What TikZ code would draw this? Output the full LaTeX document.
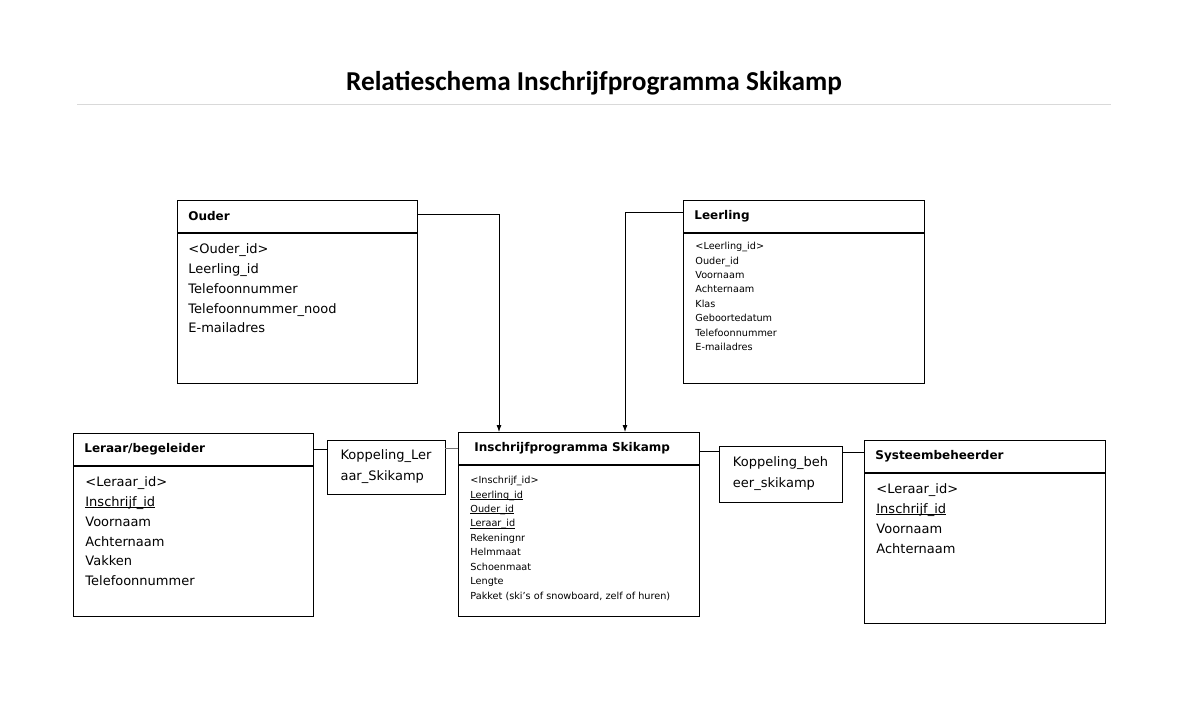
\documentclass[tikz,border=0pt]{standalone}
\usepackage{fontspec}
\setmainfont{DejaVu Sans}
\newfontfamily\titelfont{Carlito}
\newsavebox\lijnbox
\newcommand\onderlijn[1]{\sbox\lijnbox{#1}\rlap{\rule[-1.6pt]{\wd\lijnbox}{0.6pt}}\usebox\lijnbox}
\usepackage{tikz}
\usetikzlibrary{arrows.meta,positioning}

\begin{document}
\begin{tikzpicture}[x=1pt, y=-1pt, line width=0.8pt,
    kop/.style={draw, anchor=north west, minimum height=32pt, inner xsep=11pt, inner ysep=0pt, align=left, font=\fontsize{12}{14}\selectfont\bfseries},
    veld/.style={draw, anchor=north west, minimum height=150pt},
    tekst/.style={anchor=north west, inner sep=0pt, align=left, font=\fontsize{13}{19.8}\selectfont},
    klein/.style={anchor=north west, inner sep=0pt, align=left, font=\fontsize{9.7}{14.45}\selectfont},
    koppeling/.style={draw, align=left, inner sep=0pt, font=\fontsize{13}{21}\selectfont},
    pijl/.style={-{Latex[length=7pt,width=5pt]}}
]
    \useasboundingbox (0,0) rectangle (1181,702);

    % Title
    \node[font=\titelfont\bfseries\fontsize{27.3}{32}\selectfont] (titel) at (594,83) {Relatieschema Inschrijfprogramma Skikamp};
    \draw[black!15] (77,104) -- (1111,104);

    % Ouder
    \node[kop, text width=218pt] (ouder) at (177,200) {Ouder};
    \node[veld, minimum width=240pt] (ouderVeld) at (ouder.south west) {};
    \node[tekst] (ouderTekst) at ([xshift=11pt, yshift=-10.6pt]ouderVeld.north west)
        {<Ouder\_id>\\Leerling\_id\\Telefoonnummer\\Telefoonnummer\_nood\\E-mailadres};

    % Leerling
    \node[kop, text width=219pt] (leerling) at (683,200) {Leerling};
    \node[veld, minimum width=241pt] (leerlingVeld) at (leerling.south west) {};
    \node[klein] (leerlingTekst) at ([xshift=12pt, yshift=-9pt]leerlingVeld.north west)
        {<Leerling\_id>\\Ouder\_id\\Voornaam\\Achternaam\\Klas\\Geboortedatum\\Telefoonnummer\\E-mailadres};

    % Leraar/begeleider
    \node[kop, text width=218pt] (leraar) at (73,433) {Leraar/begeleider};
    \node[veld, minimum width=240pt] (leraarVeld) at (leraar.south west) {};
    \node[tekst] (leraarTekst) at ([xshift=12pt, yshift=-10.6pt]leraarVeld.north west)
        {<Leraar\_id>\\\onderlijn{Inschrijf\_id}\\Voornaam\\Achternaam\\Vakken\\Telefoonnummer};

    % Inschrijfprogramma Skikamp
    \node[kop, text width=219pt, inner xsep=11pt] (inschrijf) at (458,432) {\hspace{5pt}Inschrijfprogramma Skikamp};
    \node[veld, minimum width=241pt, minimum height=151pt] (inschrijfVeld) at (inschrijf.south west) {};
    \node[klein] (inschrijfTekst) at ([xshift=12pt, yshift=-11pt]inschrijfVeld.north west)
        {<Inschrijf\_id>\\\onderlijn{Leerling\_id}\\\onderlijn{Ouder\_id}\\\onderlijn{Leraar\_id}\\Rekeningnr\\Helmmaat\\Schoenmaat\\Lengte\\Pakket (ski’s of snowboard, zelf of huren)};

    % Systeembeheerder
    \node[kop, text width=219pt] (systeem) at (864,440) {Systeembeheerder};
    \node[veld, minimum width=241pt] (systeemVeld) at (systeem.south west) {};
    \node[tekst] (systeemTekst) at ([xshift=12pt, yshift=-10.6pt]systeemVeld.north west)
        {<Leraar\_id>\\\onderlijn{Inschrijf\_id}\\Voornaam\\Achternaam};

    % Koppelingen
    \node[koppeling, minimum width=118pt, minimum height=54pt] (koppelLeraar) at (386,467) {Koppeling\_Ler\\aar\_Skikamp};
    \node[koppeling, minimum width=123pt, minimum height=56pt] (koppelBeheer) at (780.5,474) {Koppeling\_beh\\eer\_skikamp};

    % Connectors
    \draw[pijl] ([yshift=2pt]ouder.east) -| ([xshift=41pt]inschrijf.north west);
    \draw[pijl] ([yshift=4pt]leerling.west) -| ([xshift=167pt]inschrijf.north west);
    \draw (leraar.east) -- (leraar.east -| koppelLeraar.west);
    \draw[black!55, line width=1.4pt] (inschrijf.west -| koppelLeraar.east) -- (inschrijf.west);
    \draw ([yshift=-3pt]inschrijf.east) -- ([yshift=-3pt]inschrijf.east -| koppelBeheer.west);
    \draw ([yshift=4pt]systeem.west -| koppelBeheer.east) -- ([yshift=4pt]systeem.west);
\end{tikzpicture}
\end{document}
